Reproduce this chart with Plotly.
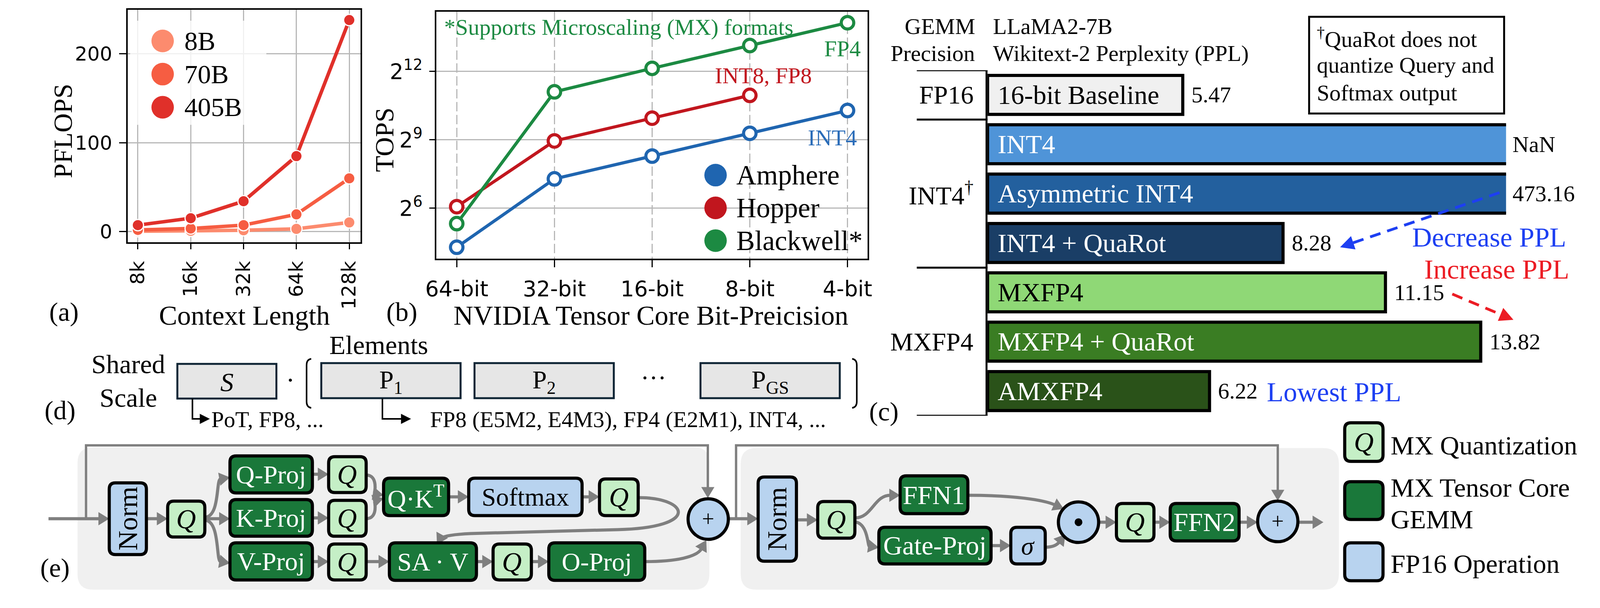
import math
import plotly.graph_objects as go

W, H = 4122, 1556
SERIF = "Liberation Serif"
SANS = "DejaVu Sans"

# ---------------- data: panel (a) ----------------
context_lengths = ["8k", "16k", "32k", "64k", "128k"]
model_sizes = ["8B", "70B", "405B"]
pflops_8b = [0.5, 1.0, 1.6, 3.2, 10.4]
pflops_70b = [2.0, 3.6, 7.4, 19.5, 60.0]
pflops_405b = [7.4, 15.2, 34.3, 85.0, 238.0]
model_colors = ["#fc8b6e", "#f65d42", "#e0302a"]
pflops_ticks = [0, 100, 200]

# ---------------- data: panel (b) ----------------
bit_precisions = ["64-bit", "32-bit", "16-bit", "8-bit", "4-bit"]
gpu_archs = ["Amphere", "Hopper", "Blackwell*"]
tops_ampere = [19.5, 156, 312, 624, 1248]
tops_hopper = [67, 495, 989, 1979, None]
tops_blackwell = [40, 2200, 4500, 9000, 18000]
gpu_colors = ["#1f65b0", "#c1161e", "#1c8a42"]
tops_tickvals = [2 ** 6, 2 ** 9, 2 ** 12]
tops_ticktext = ["2<sup>6</sup>", "2<sup>9</sup>", "2<sup>12</sup>"]

# ---------------- data: panel (c) ----------------
ppl_methods = ["16-bit Baseline", "INT4", "Asymmetric INT4", "INT4 + QuaRot",
               "MXFP4", "MXFP4 + QuaRot", "AMXFP4"]
ppl_values = [5.47, float("nan"), 473.16, 8.28, 11.15, 13.82, 6.22]
ppl_labels = ["5.47", "NaN", "473.16", "8.28", "11.15", "13.82", "6.22"]
ppl_colors = ["#f0f0f0", "#4f94d8", "#23609e", "#1a3e66", "#8fd876", "#3a7d23", "#2a5219"]
ppl_text_colors = ["black", "white", "white", "white", "black", "white", "white"]
gemm_groups = ["FP16", "INT4<sup>†</sup>", "MXFP4"]
group_sizes = [1, 3, 3]
PPL_XMAX = 14.53

fig = go.Figure()

# ---- (a) traces
for name, vals, col in zip(model_sizes, [pflops_8b, pflops_70b, pflops_405b], model_colors):
    fig.add_trace(go.Scatter(
        x=context_lengths, y=vals, name=name, mode="lines+markers",
        line=dict(color=col, width=9),
        marker=dict(size=29, color=col, line=dict(color="white", width=3)),
        xaxis="x", yaxis="y", showlegend=False))

# ---- (b) traces
for name, vals, col in zip(gpu_archs, [tops_ampere, tops_hopper, tops_blackwell], gpu_colors):
    fig.add_trace(go.Scatter(
        x=bit_precisions, y=vals, name=name, mode="lines+markers",
        line=dict(color=col, width=8),
        marker=dict(size=32, color="white", line=dict(color=col, width=8)),
        xaxis="x2", yaxis="y2", showlegend=False, connectgaps=False))

# ---- (c) bars (NaN drawn as off-scale bar, clipped by the axis)
bar_len = [v if not math.isnan(v) else PPL_XMAX * 100 for v in ppl_values]
fig.add_trace(go.Bar(
    y=ppl_methods, x=bar_len, orientation="h", width=0.79,
    marker=dict(color=ppl_colors, line=dict(color="black", width=8)),
    xaxis="x3", yaxis="y3", showlegend=False, hoverinfo="skip"))

# ---- pixel overlay subplot
fig.add_trace(go.Scatter(x=[0], y=[0], mode="markers", marker=dict(opacity=0),
                         xaxis="x4", yaxis="y4", showlegend=False, hoverinfo="skip"))

shapes, annotations = [], []
PX = dict(xref="x4", yref="y4")
GRAY = "#7f7f7f"
DGREEN = "#1a783a"
LGREEN = "#c5efc6"
LBLUE = "#b8d3ef"
BLUE_TXT = "#1d3ff2"
RED_TXT = "#ec1c24"


def path(d, line_color=None, width=0, fill=None, dash=None, refs=None):
    ln = dict(width=width, color=line_color or "rgba(0,0,0,0)")
    if dash:
        ln["dash"] = dash
    s = dict(type="path", path=d, layer="above", line=ln,
             fillcolor=fill or "rgba(0,0,0,0)")
    s.update(refs or PX)
    shapes.append(s)


def text(x, y, s, size=68, color="black", xanchor="center", yanchor="middle",
         family=SERIF, angle=0, refs=None, italic=False):
    f = dict(family=family, size=size, color=color)
    if italic:
        f["style"] = "italic"
    a = dict(x=x, y=y, text=s, showarrow=False, xanchor=xanchor, yanchor=yanchor,
             font=f, textangle=angle)
    a.update(refs or PX)
    annotations.append(a)


def rrect(x0, y0, x1, y1, r):
    return (f"M{x0+r},{y0} L{x1-r},{y0} Q{x1},{y0} {x1},{y0+r} L{x1},{y1-r} "
            f"Q{x1},{y1} {x1-r},{y1} L{x0+r},{y1} Q{x0},{y1} {x0},{y1-r} "
            f"L{x0},{y0+r} Q{x0},{y0} {x0+r},{y0} Z")


def box(x0, y0, x1, y1, fill, lw=8, r=16, line="black"):
    path(rrect(x0, y0, x1, y1, r), line_color=line, width=lw, fill=fill)


def circle(cx, cy, r, fill, lw=8, line="black"):
    s = dict(type="circle", x0=cx - r, x1=cx + r, y0=cy - r, y1=cy + r, layer="above",
             fillcolor=fill, line=dict(color=line, width=lw))
    s.update(PX)
    shapes.append(s)


def head(tx, ty, dx, dy, color=GRAY, L=28, Wd=17):
    n = math.hypot(dx, dy)
    ux, uy = dx / n, dy / n
    bx, by = tx - L * ux, ty - L * uy
    nx, ny = -uy, ux
    path(f"M{tx:.1f},{ty:.1f} L{bx+Wd*nx:.1f},{by+Wd*ny:.1f} L{bx-Wd*nx:.1f},{by-Wd*ny:.1f} Z",
         fill=color)


def arrow(x0, y0, x1, y1, color=GRAY, width=8, L=28, Wd=17, dash=None):
    n = math.hypot(x1 - x0, y1 - y0)
    ux, uy = (x1 - x0) / n, (y1 - y0) / n
    bx, by = x1 - (L - 3) * ux, y1 - (L - 3) * uy
    path(f"M{x0},{y0} L{bx:.1f},{by:.1f}", line_color=color, width=width, dash=dash)
    head(x1, y1, x1 - x0, y1 - y0, color, L, Wd)


def curve_arrow(p0, c1, c2, tip, color=GRAY, width=8, L=28, Wd=17):
    dx, dy = tip[0] - c2[0], tip[1] - c2[1]
    n = math.hypot(dx, dy)
    bx, by = tip[0] - (L - 3) * dx / n, tip[1] - (L - 3) * dy / n
    path(f"M{p0[0]},{p0[1]} C{c1[0]},{c1[1]} {c2[0]},{c2[1]} {bx:.1f},{by:.1f}",
         line_color=color, width=width)
    head(tip[0], tip[1], dx, dy, color, L, Wd)


# ================= panel (a) decorations =================
path("M300,45 L652,45 L652,312 L300,312 Z", fill="rgba(255,255,255,0.8)")
for i, (name, col) in enumerate(zip(model_sizes, model_colors)):
    cy = 97 + 85 * i
    circle(384, cy, 29, col, lw=0, line=col)
    text(438, cy, name, size=68, xanchor="left")
text(127, 328, "PFLOPS", size=68, angle=-90)
text(595, 801, "Context Length", size=70)
text(129, 792, "(a)", size=68)

# ================= panel (b) decorations =================
for i, (name, col) in enumerate(zip(gpu_archs, gpu_colors)):
    cy = 441 + 84 * i
    circle(1813, cy, 29, col, lw=0, line=col)
    text(1865, cy, name, size=71, xanchor="left")
text(1109, 62, "*Supports Microscaling (MX) formats", size=58, color=gpu_colors[2], xanchor="left")
text(2191, 117, "FP4", size=58, color=gpu_colors[2], xanchor="right")
text(1809, 186, "INT8, FP8", size=58, color=gpu_colors[1], xanchor="left")
text(2181, 345, "INT4", size=58, color="#2a6cb8", xanchor="right")
text(957, 350, "TOPS", size=68, angle=-90)
text(1646, 801, "NVIDIA Tensor Core Bit-Preicision", size=70)
text(1002, 792, "(b)", size=68)

# ================= panel (c) decorations =================
text(2486, 60, "GEMM", size=58, xanchor="right")
text(2486, 129, "Precision", size=58, xanchor="right")
text(2528, 60, "LLaMA2-7B", size=58, xanchor="left")
text(2528, 129, "Wikitext-2 Perplexity (PPL)", size=58, xanchor="left")
bounds = [-0.5]
for g in group_sizes:
    bounds.append(bounds[-1] + g)
for b in bounds:
    shapes.append(dict(type="line", x0=2333, x1=2516, y0=b, y1=b, xref="x4", yref="y3",
                       layer="above", line=dict(color="black", width=5)))
for gname, lo, hi in zip(gemm_groups, bounds[:-1], bounds[1:]):
    text(2481, (lo + hi) / 2, gname, size=66, xanchor="right", refs=dict(xref="x4", yref="y3"))
for m, v, lab, tc in zip(ppl_methods, ppl_values, ppl_labels, ppl_text_colors):
    text(0, m, m, size=68, color=tc, xanchor="left", refs=dict(xref="x3", yref="y3"))
    annotations[-1]["xshift"] = 24
    xv = PPL_XMAX if (math.isnan(v) or v > PPL_XMAX) else v
    text(xv, m, lab, size=58, xanchor="left", refs=dict(xref="x3", yref="y3"))
    annotations[-1]["xshift"] = 14 if xv == PPL_XMAX else 20
text(3236, 997, "Lowest PPL", size=70, color=BLUE_TXT, xanchor="left")
text(3611, 601, "Decrease PPL", size=70, color=BLUE_TXT, xanchor="left")
text(3642, 683, "Increase PPL", size=70, color=RED_TXT, xanchor="left")
arrow(3839, 486, 3427, 626, color=BLUE_TXT, width=7, L=36, Wd=18, dash="28px,18px")
arrow(3717, 746, 3875, 812, color=RED_TXT, width=7, L=36, Wd=18, dash="28px,18px")
path("M3347,35 L3851,35 L3851,283 L3347,283 Z", line_color="black", width=5, fill="white")
text(3365, 89, "<sup>†</sup>QuaRot does not", size=58, xanchor="left")
text(3365, 159, "quantize Query and", size=58, xanchor="left")
text(3365, 230, "Softmax output", size=58, xanchor="left")
text(2248, 1047, "(c)", size=68)

# ================= panel (d) =================
NAVY = "#0f2535"
BOXG = "#e6e6e6"
text(295, 926, "Shared", size=68)
text(295, 1012, "Scale", size=68)
text(119, 1044, "(d)", size=68)
path("M422,925 L678,925 L678,1014 L422,1014 Z", line_color=NAVY, width=5, fill=BOXG)
text(550, 972, "S", size=68, italic=True)
text(714, 966, "·", size=68)
path("M768,912 Q756,914 756,928 L756,1022 Q756,1036 768,1038", line_color="black", width=4)
for x0, x1, lab in [(794, 1154, "P<sub>1</sub>"), (1190, 1550, "P<sub>2</sub>"), (1774, 2134, "P<sub>GS</sub>")]:
    path(f"M{x0},923 L{x1},923 L{x1},1013 L{x0},1013 Z", line_color=NAVY, width=5, fill=BOXG)
    text((x0 + x1) / 2, 970, lab, size=66)
text(1653, 960, "···", size=66)
path("M2166,912 Q2178,914 2178,928 L2178,1022 Q2178,1036 2166,1038", line_color="black", width=4)
text(942, 877, "Elements", size=68)
path("M461,1014 L461,1066 L482,1066", line_color="black", width=4)
head(506, 1066, 1, 0, color="black", L=26, Wd=13)
text(508, 1068, "PoT, FP8, ...", size=58, xanchor="left")
path("M952,1014 L952,1066 L1002,1066", line_color="black", width=4)
head(1026, 1066, 1, 0, color="black", L=26, Wd=13)
text(1073, 1068, "FP8 (E5M2, E4M3), FP4 (E2M1), INT4, ...", size=58, xanchor="left")

# ================= panel (e) =================
path(rrect(164, 1139, 1797, 1504, 40), fill="#f0f0f0")
path(rrect(1878, 1141, 3424, 1504, 40), fill="#f0f0f0")
text(105, 1448, "(e)", size=68)

path("M186,1322 L186,1134 L1793,1134 L1793,1246", line_color=GRAY, width=6)
head(1793, 1269, 0, 1)
path("M1866,1322 L1866,1134 L3266,1134 L3266,1253", line_color=GRAY, width=6)
head(3266, 1276, 0, 1)

arrow(89, 1322, 246, 1322)
arrow(342, 1322, 397, 1322)
curve_arrow((493, 1318), (532, 1318), (522, 1222), (558, 1216))
arrow(493, 1322, 558, 1322)
curve_arrow((493, 1326), (532, 1326), (522, 1430), (558, 1436))
for yy in (1208, 1320, 1432):
    arrow(771, yy, 813, yy)
curve_arrow((910, 1210), (942, 1210), (932, 1258), (955, 1262))
curve_arrow((910, 1322), (942, 1322), (932, 1276), (955, 1270))
arrow(1123, 1266, 1175, 1266)
arrow(1468, 1266, 1513, 1266)
path("M1613,1268 C1745,1268 1775,1345 1560,1350 L1180,1360 C1135,1362 1112,1366 1104,1372",
     line_color=GRAY, width=8)
head(1093, 1388, -0.55, 1)
arrow(910, 1432, 970, 1432)
arrow(1195, 1432, 1238, 1432)
arrow(1337, 1432, 1382, 1432)
curve_arrow((1630, 1432), (1712, 1432), (1765, 1420), (1789, 1377))
arrow(1846, 1322, 1923, 1322)

box(246, 1230, 342, 1414, LBLUE)
text(294, 1322, "Norm", size=70, angle=-90)
box(397, 1277, 493, 1369, LGREEN)
text(445, 1323, "Q", size=70, italic=True)
for (y0, y1, lab) in [(1161, 1256, "Q-Proj"), (1273, 1367, "K-Proj"), (1384, 1479, "V-Proj")]:
    box(558, y0, 771, y1, DGREEN)
    text(664, (y0 + y1) / 2, lab, size=66, color="white")
for (y0, y1) in [(1163, 1255), (1275, 1367), (1387, 1479)]:
    box(813, y0, 910, y1, LGREEN)
    text(861, (y0 + y1) / 2, "Q", size=70, italic=True)
box(955, 1218, 1123, 1314, DGREEN)
text(1039, 1266, "Q·K<sup>T</sup>", size=66, color="white")
box(1175, 1218, 1468, 1314, LBLUE)
text(1321, 1266, "Softmax", size=66)
box(1513, 1220, 1613, 1314, LGREEN)
text(1563, 1267, "Q", size=70, italic=True)
box(970, 1384, 1195, 1480, DGREEN)
text(1082, 1432, "SA · V", size=66, color="white")
box(1238, 1387, 1337, 1479, LGREEN)
text(1287, 1433, "Q", size=70, italic=True)
box(1382, 1384, 1630, 1480, DGREEN)
text(1506, 1432, "O-Proj", size=66, color="white")
circle(1794, 1323, 52, LBLUE)
text(1794, 1323, "+", size=56)

arrow(2022, 1325, 2077, 1325)
curve_arrow((2173, 1320), (2218, 1320), (2222, 1262), (2290, 1262))
curve_arrow((2173, 1330), (2207, 1334), (2206, 1392), (2235, 1396))
arrow(2525, 1391, 2576, 1391)
curve_arrow((2665, 1395), (2690, 1395), (2698, 1386), (2717, 1362))
curve_arrow((2465, 1262), (2585, 1262), (2662, 1274), (2713, 1297))
arrow(2803, 1331, 2849, 1331)
arrow(2946, 1331, 2988, 1331)
arrow(3166, 1331, 3214, 1331)
arrow(3318, 1331, 3384, 1331)

box(1923, 1215, 2022, 1431, LBLUE)
text(1972, 1323, "Norm", size=70, angle=-90)
box(2077, 1278, 2173, 1372, LGREEN)
text(2125, 1325, "Q", size=70, italic=True)
box(2290, 1212, 2465, 1309, DGREEN)
text(2377, 1261, "FFN1", size=68, color="white")
box(2235, 1344, 2525, 1438, DGREEN)
text(2380, 1391, "Gate-Proj", size=68, color="white")
box(2576, 1344, 2665, 1438, LBLUE)
text(2620, 1391, "σ", size=66, italic=True)
circle(2751, 1331, 52, LBLUE)
circle(2751, 1331, 10, "black", lw=0)
box(2849, 1283, 2946, 1379, LGREEN)
text(2897, 1331, "Q", size=70, italic=True)
box(2988, 1283, 3166, 1379, DGREEN)
text(3077, 1331, "FFN2", size=68, color="white")
circle(3266, 1329, 52, LBLUE)
text(3266, 1329, "+", size=56)

box(3439, 1076, 3538, 1175, LGREEN)
text(3488, 1126, "Q", size=70, italic=True)
box(3439, 1227, 3538, 1324, DGREEN)
box(3439, 1384, 3538, 1481, LBLUE)
text(3556, 1134, "MX Quantization", size=68, xanchor="left")
text(3556, 1242, "MX Tensor Core", size=68, xanchor="left")
text(3556, 1324, "GEMM", size=68, xanchor="left")
text(3556, 1438, "FP16 Operation", size=68, xanchor="left")

# ================= layout =================
GRID = "#b8b8b8"
common_frame = dict(showline=True, mirror=True, linecolor="black", linewidth=4,
                    ticks="outside", tickcolor="black", tickwidth=3, zeroline=False,
                    showgrid=True, gridcolor=GRID, gridwidth=3)

fig.update_layout(
    width=W, height=H, margin=dict(l=0, r=0, t=0, b=0),
    paper_bgcolor="white", plot_bgcolor="rgba(0,0,0,0)", showlegend=False,
    font=dict(family=SERIF, color="black"),
    xaxis=dict(domain=[294 / W, 895 / W], anchor="y", type="category",
               categoryarray=context_lengths, range=[-0.19, 4.21], ticklen=14,
               tickangle=-90, tickfont=dict(family=SANS, size=50, color="black"),
               ticklabelstandoff=10, **common_frame),
    yaxis=dict(domain=[1 - 613 / H, 1 - 17 / H], anchor="x", range=[-11.8, 249.6],
               tickvals=pflops_ticks, ticklen=18,
               tickfont=dict(family=SANS, size=50, color="black"),
               ticklabelstandoff=8, **common_frame),
    xaxis2=dict(domain=[1091 / W, 2206 / W], anchor="y2", type="category",
                categoryarray=bit_precisions, range=[-0.21, 4.206], ticklen=18,
                griddash="24px,9px", tickfont=dict(family=SANS, size=55, color="black"),
                ticklabelstandoff=8, **common_frame),
    yaxis2=dict(domain=[1 - 655 / H, 1 - 22 / H], anchor="x2", type="log",
                range=[3.79 * math.log10(2), 14.62 * math.log10(2)],
                tickvals=tops_tickvals, ticktext=tops_ticktext, ticklen=14,
                tickfont=dict(family=SANS, size=55, color="black"),
                ticklabelstandoff=6, **common_frame),
    xaxis3=dict(domain=[2516 / W, 3856 / W], anchor="y3", range=[0, PPL_XMAX],
                visible=False, showgrid=False, zeroline=False),
    yaxis3=dict(domain=[1 - 1058 / H, 1 - 172 / H], anchor="x3", type="category",
                categoryarray=ppl_methods, range=[6.5, -0.5], showticklabels=False,
                showline=True, linecolor="black", linewidth=5, showgrid=False,
                zeroline=False, ticks=""),
    xaxis4=dict(domain=[0, 1], anchor="y4", range=[0, W], visible=False,
                showgrid=False, zeroline=False, fixedrange=True),
    yaxis4=dict(domain=[0, 1], anchor="x4", range=[H, 0], visible=False,
                showgrid=False, zeroline=False, fixedrange=True),
    shapes=shapes, annotations=annotations,
)

fig.write_html("out.html")
